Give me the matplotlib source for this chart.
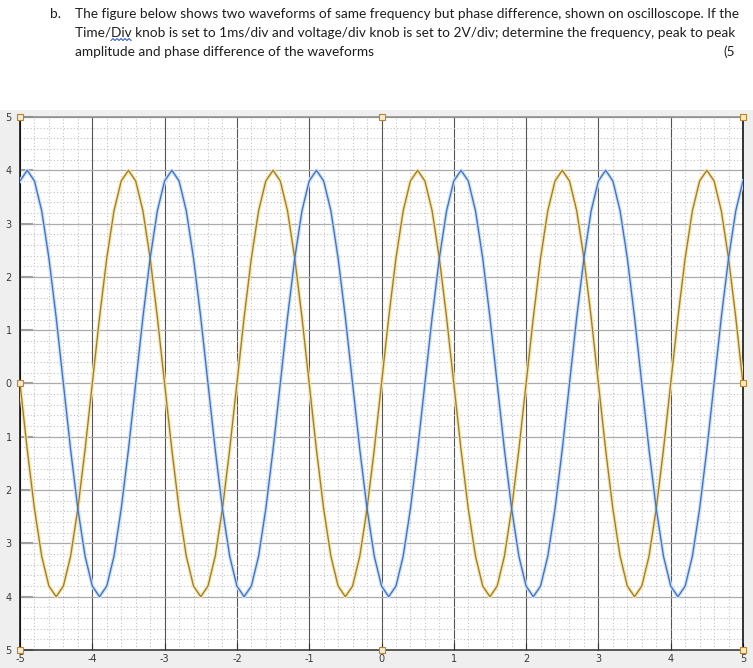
import matplotlib
matplotlib.use("Agg")
import matplotlib.pyplot as plt
from matplotlib.patches import Rectangle
from matplotlib.lines import Line2D
from matplotlib.ticker import MultipleLocator, FixedLocator, FixedFormatter

t_div = [
    -5.0, -4.9, -4.8, -4.7, -4.6, -4.5, -4.4, -4.3, -4.2, -4.1,
    -4.0, -3.9, -3.8, -3.7, -3.6, -3.5, -3.4, -3.3, -3.2, -3.1,
    -3.0, -2.9, -2.8, -2.7, -2.6, -2.5, -2.4, -2.3, -2.2, -2.1,
    -2.0, -1.9, -1.8, -1.7, -1.6, -1.5, -1.4, -1.3, -1.2, -1.1,
    -1.0, -0.9, -0.8, -0.7, -0.6, -0.5, -0.4, -0.3, -0.2, -0.1,
    0.0, 0.1, 0.2, 0.3, 0.4, 0.5, 0.6, 0.7, 0.8, 0.9,
    1.0, 1.1, 1.2, 1.3, 1.4, 1.5, 1.6, 1.7, 1.8, 1.9,
    2.0, 2.1, 2.2, 2.3, 2.4, 2.5, 2.6, 2.7, 2.8, 2.9,
    3.0, 3.1, 3.2, 3.3, 3.4, 3.5, 3.6, 3.7, 3.8, 3.9,
    4.0, 4.1, 4.2, 4.3, 4.4, 4.5, 4.6, 4.7, 4.8, 4.9,
    5.0,
]

blue_wave = [
    3.80, 4.00, 3.80, 3.24, 2.35, 1.24, 0.00, -1.24, -2.35, -3.24,
    -3.80, -4.00, -3.80, -3.24, -2.35, -1.24, 0.00, 1.24, 2.35, 3.24,
    3.80, 4.00, 3.80, 3.24, 2.35, 1.24, 0.00, -1.24, -2.35, -3.24,
    -3.80, -4.00, -3.80, -3.24, -2.35, -1.24, 0.00, 1.24, 2.35, 3.24,
    3.80, 4.00, 3.80, 3.24, 2.35, 1.24, 0.00, -1.24, -2.35, -3.24,
    -3.80, -4.00, -3.80, -3.24, -2.35, -1.24, 0.00, 1.24, 2.35, 3.24,
    3.80, 4.00, 3.80, 3.24, 2.35, 1.24, 0.00, -1.24, -2.35, -3.24,
    -3.80, -4.00, -3.80, -3.24, -2.35, -1.24, 0.00, 1.24, 2.35, 3.24,
    3.80, 4.00, 3.80, 3.24, 2.35, 1.24, 0.00, -1.24, -2.35, -3.24,
    -3.80, -4.00, -3.80, -3.24, -2.35, -1.24, 0.00, 1.24, 2.35, 3.24,
    3.80,
]

gold_wave = [
    0.00, -1.24, -2.35, -3.24, -3.80, -4.00, -3.80, -3.24, -2.35, -1.24,
    0.00, 1.24, 2.35, 3.24, 3.80, 4.00, 3.80, 3.24, 2.35, 1.24,
    0.00, -1.24, -2.35, -3.24, -3.80, -4.00, -3.80, -3.24, -2.35, -1.24,
    0.00, 1.24, 2.35, 3.24, 3.80, 4.00, 3.80, 3.24, 2.35, 1.24,
    0.00, -1.24, -2.35, -3.24, -3.80, -4.00, -3.80, -3.24, -2.35, -1.24,
    0.00, 1.24, 2.35, 3.24, 3.80, 4.00, 3.80, 3.24, 2.35, 1.24,
    0.00, -1.24, -2.35, -3.24, -3.80, -4.00, -3.80, -3.24, -2.35, -1.24,
    0.00, 1.24, 2.35, 3.24, 3.80, 4.00, 3.80, 3.24, 2.35, 1.24,
    0.00, -1.24, -2.35, -3.24, -3.80, -4.00, -3.80, -3.24, -2.35, -1.24,
    0.00, 1.24, 2.35, 3.24, 3.80, 4.00, 3.80, 3.24, 2.35, 1.24,
    0.00,
]

x_ticks = [-5, -4, -3, -2, -1, 0, 1, 2, 3, 4, 5]
x_labels = ["-5", "-4", "-3", "-2", "-1", "0", "1", "2", "3", "4", "5"]
y_ticks = [-5, -4, -3, -2, -1, 0, 1, 2, 3, 4, 5]
y_labels = ["5", "4", "3", "2", "1", "0", "1", "2", "3", "4", "5"]

question = [
    "The figure below shows two waveforms of same frequency but phase difference, shown on oscilloscope. If the",
    "Time/Div knob is set to 1ms/div and voltage/div knob is set to 2V/div; determine the frequency, peak to peak",
    "amplitude and phase difference of the waveforms",
]

W, H = 753, 668
fig = plt.figure(figsize=(W / 100, H / 100), dpi=100)
fig.patch.set_facecolor("white")
# grey panel behind the scope picture
fig.patches.append(Rectangle((0, 0), 1, (H - 110) / H, transform=fig.transFigure,
                             facecolor="#efefef", edgecolor="none", zorder=-5))

# --- question text ---
font = "Lato"
base_y = [18, 37, 56.5]
txts = []
for line, by in zip(question, base_y):
    txts.append(fig.text(75 / W, 1 - by / H, line, fontsize=11, family=font,
                         color="#1e1e1e", va="baseline", ha="left"))
fig.canvas.draw()
r = fig.canvas.get_renderer()
w0 = txts[0].get_window_extent(r).width
fs = 11 * 656 / w0
for t in txts:
    t.set_fontsize(fs)
fig.text(50 / W, 1 - base_y[0] / H, "b.", fontsize=fs, family=font, color="#1e1e1e", va="baseline")
fig.text(723 / W, 1 - base_y[2] / H, "(5", fontsize=fs, family=font, color="#1e1e1e", va="baseline")

# wavy spell-check underline under "Div"
tmp = fig.text(0, 0, "Time/", fontsize=fs, family=font)
tmp2 = fig.text(0, 0, "Time/Div", fontsize=fs, family=font)
fig.canvas.draw()
x0 = 75 + tmp.get_window_extent(r).width
x1 = 75 + tmp2.get_window_extent(r).width
tmp.remove(); tmp2.remove()
zx, zy = [], []
px, k = x0, 0
while px <= x1:
    zx.append(px / W)
    zy.append(1 - (base_y[1] + (3.5 if k % 2 == 0 else 1.5)) / H)
    px += 2
    k += 1
fig.lines.append(Line2D(zx, zy, transform=fig.transFigure, color="#3b5bdb", lw=0.8))

# --- scope axes ---
ax = fig.add_axes([20 / W, 18 / H, 723 / W, 533 / H])
ax.set_zorder(2)
ax.set_facecolor("white")
ax.set_xlim(-5, 5)
ax.set_ylim(-5, 5)
ax.xaxis.set_major_locator(FixedLocator(x_ticks))
ax.xaxis.set_major_formatter(FixedFormatter(x_labels))
ax.yaxis.set_major_locator(FixedLocator(y_ticks))
ax.yaxis.set_major_formatter(FixedFormatter(y_labels))
ax.xaxis.set_minor_locator(MultipleLocator(0.2))
ax.yaxis.set_minor_locator(MultipleLocator(0.2))

ax.xaxis.grid(True, which="major", color="#555555", lw=0.8)
ax.yaxis.grid(True, which="major", color="#ababab", lw=0.9)
ax.grid(True, which="minor", color="#c2c2c2", lw=0.8, linestyle=(0, (1, 2)))
ax.set_axisbelow(True)

ax.tick_params(axis="both", which="minor", length=0)
ax.tick_params(axis="x", which="major", direction="in", length=5, color="#303030",
               labelsize=7, labelcolor="#3a3a3a", pad=3)
ax.tick_params(axis="y", which="major", direction="in", length=9, width=1.5, color="#a0a0a0",
               labelsize=7, labelcolor="#3a3a3a", pad=6)

for side, c in [("left", "#000000"), ("bottom", "#303030"), ("right", "#000000"), ("top", "#8a8a8a")]:
    ax.spines[side].set_color(c)
    ax.spines[side].set_linewidth(1.1)

# traces: pale halo + darker core, like the screenshot rendering
ax.plot(t_div, gold_wave, color="#f6e6ad", lw=2.6, zorder=3)
ax.plot(t_div, blue_wave, color="#cde0f6", lw=2.6, zorder=3)
ax.plot(t_div, gold_wave, color="#a37c26", lw=0.95, zorder=4)
ax.plot(t_div, blue_wave, color="#3f72c6", lw=0.95, zorder=4)

# picture sizing handles
for hx, hy in [(0, 0), (0.5, 0), (1, 0), (0, 0.5), (1, 0.5), (0, 1), (0.5, 1), (1, 1)]:
    ax.plot([hx], [hy], transform=ax.transAxes, marker="s", ms=4.5, mfc="#fbe9c8",
            mec="#b7862c", mew=0.8, clip_on=False, zorder=6)

fig.savefig("out.png", dpi=100, facecolor=fig.get_facecolor())
